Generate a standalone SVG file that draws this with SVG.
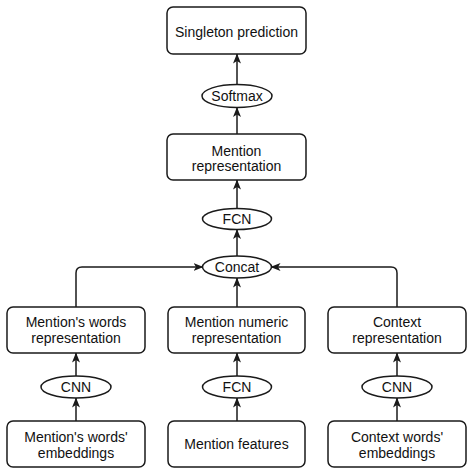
<svg xmlns="http://www.w3.org/2000/svg" width="474" height="474" viewBox="0 0 474 474">
<style>
.box{fill:#fff;stroke:#1a1a1a;stroke-width:1.5}
.op{fill:#fff;stroke:#1a1a1a;stroke-width:1.5}
.t{font-family:"Liberation Sans",Arial,sans-serif;font-size:14px;fill:#111;text-anchor:middle}
.c{fill:none;stroke:#1a1a1a;stroke-width:1.5;marker-end:url(#ah)}
</style>
<defs>
<marker id="ah" markerUnits="userSpaceOnUse" markerWidth="10" markerHeight="8" refX="9.5" refY="4" orient="auto">
<path d="M0,0 L10,4 L0,8 L2.5,4 z" fill="#1a1a1a"/>
</marker>
</defs>
<rect width="474" height="474" fill="#fff"/>
<g id="connectors">
<line class="c" x1="237" y1="84.5" x2="237" y2="54"/>
<line class="c" x1="237" y1="134" x2="237" y2="107.5"/>
<line class="c" x1="237" y1="208.5" x2="237" y2="180"/>
<line class="c" x1="237" y1="256" x2="237" y2="229.5"/>
<line class="c" x1="237" y1="307" x2="237" y2="278"/>
<path class="c" d="M76,307 L76,273 Q76,267 82,267 L203,267"/>
<path class="c" d="M397,307 L397,273 Q397,267 391,267 L271,267"/>
<line class="c" x1="76" y1="421" x2="76" y2="398"/>
<line class="c" x1="76" y1="376" x2="76" y2="353"/>
<line class="c" x1="237" y1="421" x2="237" y2="398"/>
<line class="c" x1="237" y1="376" x2="237" y2="353"/>
<line class="c" x1="397" y1="421" x2="397" y2="398"/>
<line class="c" x1="397" y1="376" x2="397" y2="353"/>
</g>
<g id="singleton">
<rect class="box" x="167" y="7" width="139" height="47" rx="6"/>
<text class="t" x="236.5" y="37">Singleton prediction</text>
</g>
<g id="softmax">
<ellipse class="op" cx="237" cy="96" rx="35" ry="11.5"/>
<text class="t" x="237" y="101">Softmax</text>
</g>
<g id="mention-rep">
<rect class="box" x="167" y="134" width="139" height="46" rx="6"/>
<text class="t" x="236.5" y="156">Mention</text>
<text class="t" x="236.5" y="171">representation</text>
</g>
<g id="fcn-top">
<ellipse class="op" cx="237" cy="219" rx="34.5" ry="10.5"/>
<text class="t" x="237" y="224">FCN</text>
</g>
<g id="concat">
<ellipse class="op" cx="237" cy="267" rx="34.5" ry="11"/>
<text class="t" x="237" y="272">Concat</text>
</g>
<g id="words-rep">
<rect class="box" x="7" y="307" width="138" height="46" rx="6"/>
<text class="t" x="76" y="327">Mention's words</text>
<text class="t" x="76" y="343">representation</text>
</g>
<g id="numeric-rep">
<rect class="box" x="168" y="307" width="137" height="46" rx="6"/>
<text class="t" x="236.5" y="327">Mention numeric</text>
<text class="t" x="236.5" y="343">representation</text>
</g>
<g id="context-rep">
<rect class="box" x="328" y="307" width="138" height="46" rx="6"/>
<text class="t" x="397" y="327">Context</text>
<text class="t" x="397" y="343">representation</text>
</g>
<g id="cnn-left">
<ellipse class="op" cx="76" cy="387" rx="35" ry="11"/>
<text class="t" x="76" y="392">CNN</text>
</g>
<g id="fcn-mid">
<ellipse class="op" cx="237" cy="387" rx="34.5" ry="11"/>
<text class="t" x="237" y="392">FCN</text>
</g>
<g id="cnn-right">
<ellipse class="op" cx="397" cy="387" rx="35" ry="11"/>
<text class="t" x="397" y="392">CNN</text>
</g>
<g id="words-emb">
<rect class="box" x="7" y="421" width="138" height="46" rx="6"/>
<text class="t" x="76" y="442">Mention's words'</text>
<text class="t" x="76" y="458">embeddings</text>
</g>
<g id="mention-features">
<rect class="box" x="168" y="421" width="137" height="46" rx="6"/>
<text class="t" x="236.5" y="449">Mention features</text>
</g>
<g id="context-emb">
<rect class="box" x="328" y="421" width="138" height="46" rx="6"/>
<text class="t" x="397" y="442">Context words'</text>
<text class="t" x="397" y="458">embeddings</text>
</g>
</svg>
